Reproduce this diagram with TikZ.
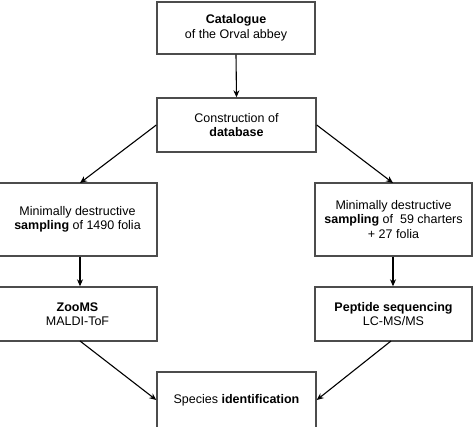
\documentclass[tikz,border=0pt]{standalone}
\usepackage{fontspec}
\setmainfont{Liberation Sans}
\usetikzlibrary{arrows.meta}
\begin{document}
\begin{tikzpicture}[x=1pt,y=-1pt,
  box/.style={draw=black!70, line width=1.4pt, fill=white, align=center, inner sep=0pt,
    font=\fontsize{12.5}{14.5}\selectfont},
  conn/.style={draw=black, line width=1.1pt, -{Stealth[length=7pt,width=6pt]}}]
\useasboundingbox (0,0) rectangle (474,426);
\node[box, minimum width=158pt, minimum height=52pt] (cat) at (236,28)
  {\textbf{Catalogue}\\of the Orval abbey};
\node[box, minimum width=159pt, minimum height=54pt] (db) at (236.5,125)
  {Construction of\\\textbf{database}};
\node[box, minimum width=159pt, minimum height=73pt] (sl) at (77.5,219.5)
  {Minimally destructive\\\textbf{sampling} of 1490 folia};
\node[box, minimum width=157pt, minimum height=73pt] (sr) at (393.5,219.5)
  {Minimally destructive\\\textbf{sampling} of\ \ 59 charters\\+ 27 folia};
\node[box, minimum width=159pt, minimum height=54pt] (zoo) at (77.5,314)
  {\textbf{ZooMS}\\MALDI-ToF};
\node[box, minimum width=157pt, minimum height=54pt] (pep) at (393.5,314)
  {\textbf{Peptide sequencing}\\LC-MS/MS};
\node[box, minimum width=159pt, minimum height=56pt] (sp) at (236.5,400)
  {Species \textbf{identification}};
\coordinate (slt) at (80,183);
\coordinate (srt) at (393,183);
\coordinate (zb) at (80,341);
\coordinate (pb) at (391,341);
\draw[conn] (cat.south) -- (db.north);
\draw[conn] (db.west) -- (slt);
\draw[conn] (db.east) -- (srt);
\draw[conn] (sl.south -| slt) -- (zoo.north -| slt);
\draw[conn] (sr.south -| srt) -- (pep.north -| srt);
\draw[conn] (zb) -- (sp.west);
\draw[conn] (pb) -- (sp.east);
\end{tikzpicture}
\end{document}
